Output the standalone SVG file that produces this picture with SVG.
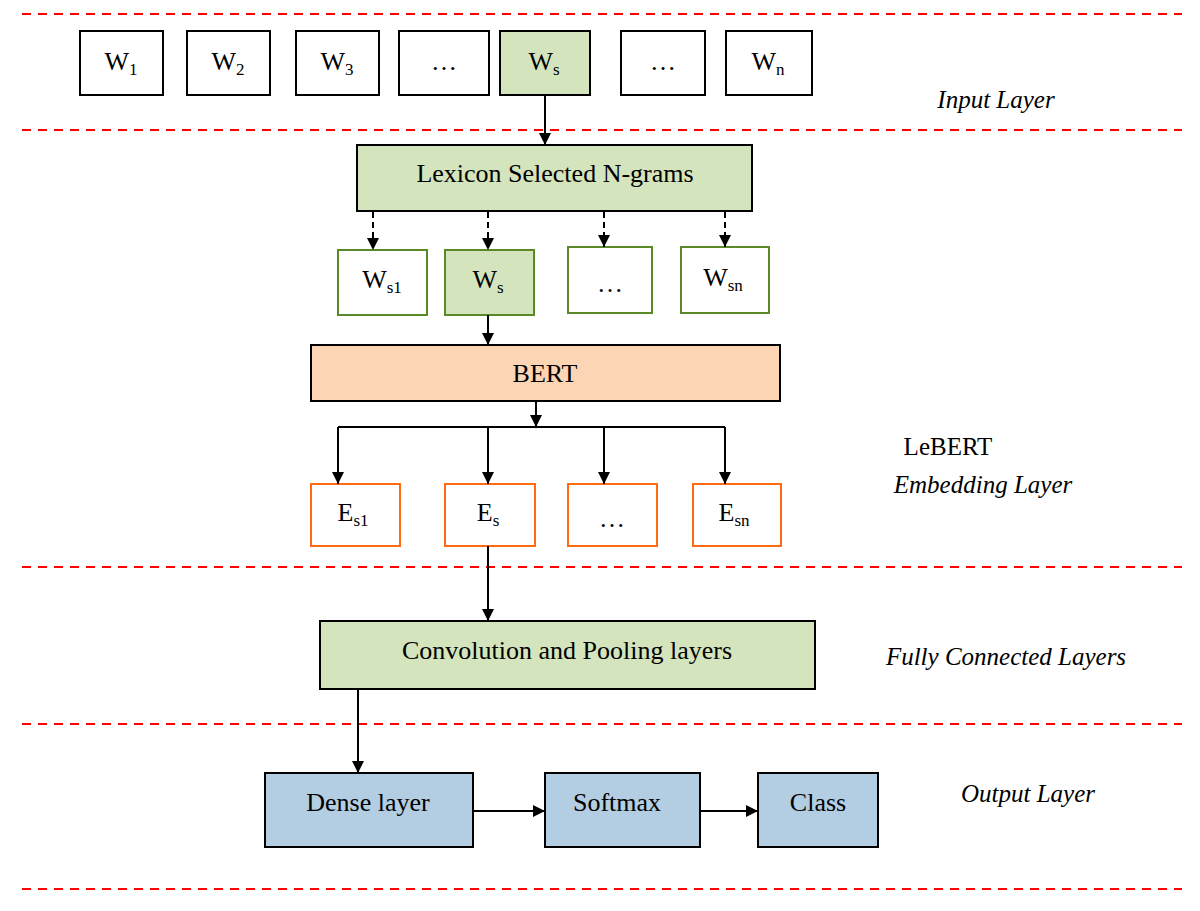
<svg xmlns="http://www.w3.org/2000/svg" width="1200" height="911" viewBox="0 0 1200 911">
<style>
text{font-family:"Liberation Serif","Times New Roman",serif;fill:#000;text-anchor:middle}
.t{font-size:26px}
.lab{font-size:25px;font-style:italic}
.sep{stroke:#f00;stroke-width:2;stroke-dasharray:9,7}
.w{fill:#fff;stroke:#000;stroke-width:2}
.g{fill:#d4e4bc;stroke:#000;stroke-width:2}
.gw{fill:#fff;stroke:#5a8a28;stroke-width:2}
.gg{fill:#d4e4bc;stroke:#5a8a28;stroke-width:2}
.o{fill:#fff;stroke:#ff6a10;stroke-width:2}
.b{fill:#b3cde3;stroke:#000;stroke-width:2}
.e{fill:#fcd5b4;stroke:#000;stroke-width:2}
.c{stroke:#000;stroke-width:2;fill:none}
.d{stroke:#000;stroke-width:2;fill:none;stroke-dasharray:6,4}
</style>
<defs><marker id="a" viewBox="0 0 10 10" refX="10" refY="5" markerWidth="7" markerHeight="7" orient="auto" markerUnits="userSpaceOnUse"><path d="M0,0L10,5L0,10z" fill="#000"/></marker>
<marker id="ah" viewBox="0 0 10 10" refX="10" refY="5" markerWidth="12" markerHeight="12" orient="auto" markerUnits="userSpaceOnUse"><path d="M0,0L10,5L0,10z" fill="#000"/></marker></defs>
<g id="separators">
<line class="sep" x1="22" y1="14" x2="1182" y2="14"/>
<line class="sep" x1="22" y1="130" x2="1182" y2="130"/>
<line class="sep" x1="22" y1="567" x2="1182" y2="567"/>
<line class="sep" x1="22" y1="724" x2="1182" y2="724"/>
<line class="sep" x1="22" y1="889" x2="1182" y2="889"/>
</g>
<g id="labels">
<text class="lab" x="996" y="108">Input Layer</text>
<text class="t" x="948" y="455" style="font-size:25px">LeBERT</text>
<text class="lab" x="983" y="493">Embedding Layer</text>
<text class="lab" x="1006" y="665">Fully Connected Layers</text>
<text class="lab" x="1028" y="802">Output Layer</text>
</g>
<g id="n_w1"><rect class="w" x="80" y="31" width="83" height="64"/><text class="t" x="121" y="70">W<tspan font-size="17" dy="5">1</tspan></text></g>
<g id="n_w2"><rect class="w" x="187" y="31" width="83" height="64"/><text class="t" x="228" y="70">W<tspan font-size="17" dy="5">2</tspan></text></g>
<g id="n_w3"><rect class="w" x="296" y="31" width="83" height="64"/><text class="t" x="337" y="70">W<tspan font-size="17" dy="5">3</tspan></text></g>
<g id="n_dots1"><rect class="w" x="399" y="31" width="90" height="64"/><text class="t" x="444" y="70">…</text></g>
<g id="n_ws"><rect class="g" x="500" y="31" width="90" height="64"/><text class="t" x="544" y="70">W<tspan font-size="17" dy="5">s</tspan></text></g>
<g id="n_dots2"><rect class="w" x="621" y="31" width="84" height="64"/><text class="t" x="663" y="70">…</text></g>
<g id="n_wn"><rect class="w" x="726" y="31" width="86" height="64"/><text class="t" x="768" y="70">W<tspan font-size="17" dy="5">n</tspan></text></g>
<g id="n_lex"><rect class="g" x="357" y="145" width="395" height="66"/><text class="t" x="555" y="182">Lexicon Selected N-grams</text></g>
<g id="n_ws1"><rect class="gw" x="338" y="250" width="89" height="65"/><text class="t" x="382" y="288">W<tspan font-size="17" dy="5">s1</tspan></text></g>
<g id="n_ws_2"><rect class="gg" x="445" y="250" width="89" height="65"/><text class="t" x="488" y="288">W<tspan font-size="17" dy="5">s</tspan></text></g>
<g id="n_wdots"><rect class="gw" x="568" y="247" width="84" height="66"/><text class="t" x="610" y="292" font-size="18">…</text></g>
<g id="n_wsn"><rect class="gw" x="681" y="247" width="88" height="66"/><text class="t" x="723" y="286">W<tspan font-size="17" dy="5">sn</tspan></text></g>
<g id="n_bert"><rect class="e" x="311" y="345" width="469" height="56"/><text class="t" x="545" y="382">BERT</text></g>
<g id="n_es1"><rect class="o" x="311" y="484" width="89" height="62"/><text class="t" x="353" y="521">E<tspan font-size="17" dy="5">s1</tspan></text></g>
<g id="n_es"><rect class="o" x="445" y="484" width="90" height="62"/><text class="t" x="488" y="521">E<tspan font-size="17" dy="5">s</tspan></text></g>
<g id="n_edots"><rect class="o" x="568" y="484" width="89" height="62"/><text class="t" x="612" y="527" font-size="18">…</text></g>
<g id="n_esn"><rect class="o" x="693" y="484" width="88" height="62"/><text class="t" x="734" y="521">E<tspan font-size="17" dy="5">sn</tspan></text></g>
<g id="n_conv"><rect class="g" x="320" y="621" width="495" height="68"/><text class="t" x="567" y="659">Convolution and Pooling layers</text></g>
<g id="n_dense"><rect class="b" x="265" y="773" width="208" height="74"/><text class="t" x="368" y="811">Dense layer</text></g>
<g id="n_soft"><rect class="b" x="545" y="773" width="155" height="74"/><text class="t" x="617" y="811">Softmax</text></g>
<g id="n_class"><rect class="b" x="758" y="773" width="120" height="74"/><text class="t" x="818" y="811">Class</text></g>
<g id="connectors">
<line class="c" x1="545" y1="95" x2="545" y2="145" marker-end="url(#ah)"/>
<line class="d" x1="373" y1="212" x2="373" y2="250" marker-end="url(#ah)"/>
<line class="d" x1="488" y1="212" x2="488" y2="250" marker-end="url(#ah)"/>
<line class="d" x1="604" y1="212" x2="604" y2="247" marker-end="url(#ah)"/>
<line class="d" x1="725" y1="212" x2="725" y2="247" marker-end="url(#ah)"/>
<line class="c" x1="488" y1="315" x2="488" y2="345" marker-end="url(#ah)"/>
<line class="c" x1="536" y1="401" x2="536" y2="427" marker-end="url(#ah)"/>
<path class="c" d="M338,427H725"/>
<line class="c" x1="338" y1="427" x2="338" y2="484" marker-end="url(#ah)"/>
<line class="c" x1="488" y1="427" x2="488" y2="484" marker-end="url(#ah)"/>
<line class="c" x1="604" y1="427" x2="604" y2="484" marker-end="url(#ah)"/>
<line class="c" x1="725" y1="427" x2="725" y2="484" marker-end="url(#ah)"/>
<line class="c" x1="488" y1="546" x2="488" y2="621" marker-end="url(#ah)"/>
<line class="c" x1="358" y1="689" x2="358" y2="773" marker-end="url(#ah)"/>
<line class="c" x1="473" y1="811" x2="545" y2="811" marker-end="url(#ah)"/>
<line class="c" x1="700" y1="811" x2="758" y2="811" marker-end="url(#ah)"/>
</g>
</svg>
